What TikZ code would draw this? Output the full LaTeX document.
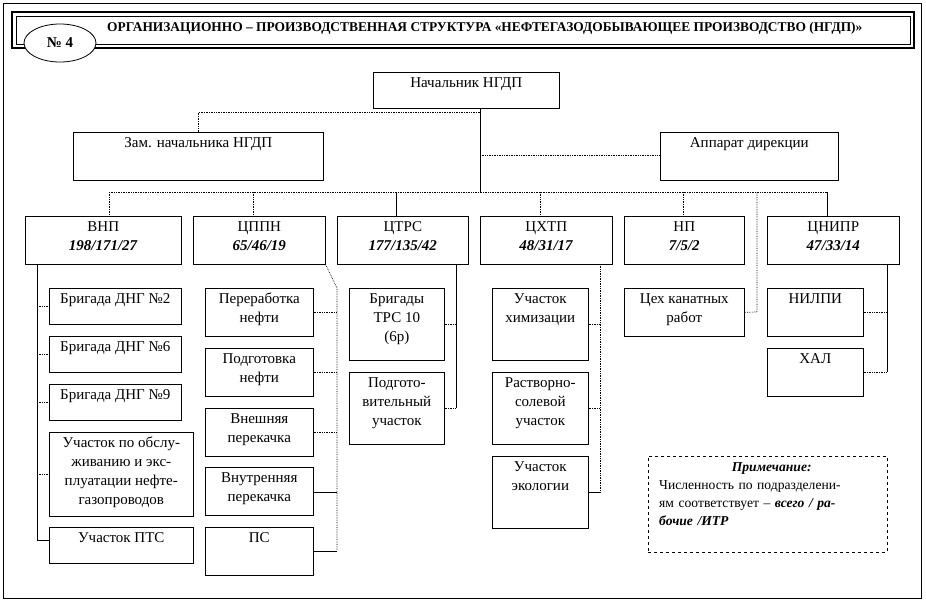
\documentclass[tikz,border=0pt]{standalone}
\usepackage{fontspec}
\setmainfont{Liberation Serif}
\usetikzlibrary{shapes.geometric}
\begin{document}
\begin{tikzpicture}[x=1pt,y=-1pt,
  bx/.style={draw,line width=0.6pt,anchor=north west,inner sep=0},
  tx/.style={anchor=north,align=center,inner sep=0,font=\fontsize{15}{19}\selectfont},
  sl/.style={line width=0.7pt},
  dl/.style={densely dotted,line width=0.7pt}]
\useasboundingbox (0,0) rectangle (926,602);
\draw[line width=0.8pt] (3,3) rectangle (921,598);
\draw[line width=1.6pt] (12,12) rectangle (914,48);
\draw[line width=0.6pt] (16,16) rectangle (910,44);
\node[anchor=west,inner sep=0,font=\bfseries\fontsize{13.4}{15}\selectfont] (title) at (107,28) {ОРГАНИЗАЦИОННО – ПРОИЗВОДСТВЕННАЯ СТРУКТУРА «НЕФТЕГАЗОДОБЫВАЮЩЕЕ ПРОИЗВОДСТВО (НГДП)»};
\node[draw,fill=white,ellipse,line width=0.8pt,minimum width=72,minimum height=38,font=\bfseries\fontsize{15}{17}\selectfont] (num) at (60,43) {№ 4};
\newcommand{\bxx}[6]{\node[bx,minimum width=#4-#2,minimum height=#5-#3] (#1) at (#2,#3) {};
  \node[tx] (#1t) at ([yshift=-5pt]#1.north) {#6};}
\bxx{nach}{373}{72}{559}{108}{Начальник НГДП}
\bxx{zam}{73}{132}{323}{180}{Зам. начальника НГДП}
\bxx{app}{660}{132}{838}{180}{Аппарат дирекции}
\bxx{vnp}{25}{216}{181}{264}{ВНП\\\textbf{\textit{198/171/27}}}
\bxx{cppn}{193}{216}{325}{264}{ЦППН\\\textbf{\textit{65/46/19}}}
\bxx{ctrs}{337}{216}{468}{264}{ЦТРС\\\textbf{\textit{177/135/42}}}
\bxx{chtp}{480}{216}{612}{264}{ЦХТП\\\textbf{\textit{48/31/17}}}
\bxx{np}{624}{216}{744}{264}{НП\\\textbf{\textit{7/5/2}}}
\bxx{cnipr}{767}{216}{899}{264}{ЦНИПР\\\textbf{\textit{47/33/14}}}
% VNP children
\bxx{b2}{49}{288}{181}{324}{Бригада ДНГ №2}
\bxx{b6}{49}{336}{181}{372}{Бригада ДНГ №6}
\bxx{b9}{49}{384}{181}{420}{Бригада ДНГ №9}
\bxx{uch}{49}{432}{193}{516}{Участок по обслу-\\живанию и экс-\\плуатации нефте-\\газопроводов}
\bxx{pts}{49}{527}{193}{563}{Участок ПТС}
% CPPN children
\bxx{p1}{205}{288}{313}{336}{Переработка\\нефти}
\bxx{p2}{205}{348}{313}{396}{Подготовка\\нефти}
\bxx{p3}{205}{408}{313}{456}{Внешняя\\перекачка}
\bxx{p4}{205}{467}{313}{515}{Внутренняя\\перекачка}
\bxx{p5}{205}{527}{313}{575}{ПС}
% CTRS
\bxx{t1}{349}{288}{444}{360}{Бригады\\ТРС 10\\(6р)}
\bxx{t2}{349}{372}{444}{444}{Подгото-\\вительный\\участок}
% CHTP
\bxx{h1}{492}{288}{588}{360}{Участок\\химизации}
\bxx{h2}{492}{372}{588}{444}{Растворно-\\солевой\\участок}
\bxx{h3}{492}{456}{588}{528}{Участок\\экологии}
% NP
\bxx{n1}{624}{288}{744}{336}{Цех канатных\\работ}
% CNIPR
\bxx{c1}{767}{288}{863}{336}{НИЛПИ}
\bxx{c2}{767}{348}{863}{396}{ХАЛ}
% note
\node[draw,dashed,line width=0.6pt,anchor=north west,minimum width=239,minimum height=96,inner sep=0] (note) at (648,456) {};
\node[anchor=north west,align=left,text width=225,inner sep=0,font=\fontsize{13.6}{18}\selectfont] (notet) at (659,462)
 {\hfill\textbf{\textit{Примечание:}}\hfill\null\\Численность по подразделени-\\ям соответствует – \textbf{\textit{всего / ра-}}\\\textbf{\textit{бочие /ИТР}}};
% connectors
\coordinate (j1) at (480,112);
\coordinate (j2) at (480,155);
\coordinate (bus) at (480,192);
\draw[sl] (nach.south -| j1) -- (bus);
\draw[dl] (j1) -| (zam.north);
\draw[dl] (j2) -- (app.west |- j2);
\draw[dl] (109,192) -- (827,192);
\draw[dl] (109,192) -- (109,216);
\draw[dl] (253,192) -- (253,216);
\draw[sl] (396,192) -- (396,216);
\draw[dl] (540,192) -- (540,216);
\draw[dl] (683,192) -- (683,216);
\draw[sl] (827,192) -- (827,216);
% VNP tree
\draw[sl] (37,264) -- (37,540) -- (pts.west |- 0,540);
\foreach \n in {b2,b6,b9,uch} \draw[dl] (37,0 |- \n.west) -- (\n.west);
% CPPN tree
\draw[dl] (cppn.south east) -- (337,288) -- (337,551);
\draw[dl] (p1.east) -- (337,0 |- p1.east);
\draw[dl] (p2.east) -- (337,0 |- p2.east);
\draw[dl] (p3.east) -- (337,0 |- p3.east);
\draw[sl] (313,492) -- (337,492);
\draw[sl] (313,551) -- (337,551);
% CTRS
\draw[sl] (456,264) -- (456,408);
\draw[dl] (t1.east) -- (456,0 |- t1.east);
\draw[dl] (t2.east) -- (456,0 |- t2.east);
% CHTP
\draw[dl] (600,264) -- (600,492);
\draw[dl] (h1.east) -- (600,0 |- h1.east);
\draw[dl] (h2.east) -- (600,0 |- h2.east);
\draw[sl] (h3.east) -- (600,0 |- h3.east);
% NP
\draw[dl] (757,192) -- (757,312) -- (n1.east);
% CNIPR
\draw[sl] (887,264) -- (887,372);
\draw[dl] (c1.east) -- (887,0 |- c1.east);
\draw[dl] (c2.east) -- (887,0 |- c2.east);
\end{tikzpicture}
\end{document}
